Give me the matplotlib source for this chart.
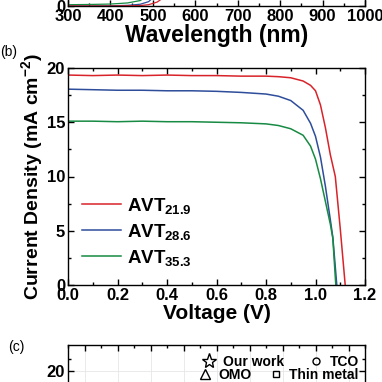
import matplotlib
matplotlib.use("Agg")
import matplotlib.pyplot as plt
from matplotlib.ticker import MultipleLocator, FixedLocator, FuncFormatter, FormatStrFormatter
from matplotlib.lines import Line2D

plt.rcParams['font.family'] = ['Liberation Sans', 'DejaVu Sans']
plt.rcParams['font.weight'] = 'bold'
plt.rcParams['mathtext.fontset'] = 'custom'
plt.rcParams['mathtext.rm'] = 'Liberation Sans:bold'
plt.rcParams['mathtext.it'] = 'Liberation Sans:bold'
plt.rcParams['mathtext.bf'] = 'Liberation Sans:bold'

# ---- data: panel (b) J-V curves ----
v_219 = [0, 0.1, 0.2, 0.3, 0.4, 0.5, 0.6, 0.7, 0.8, 0.85, 0.9, 0.95, 0.98, 1.0, 1.02, 1.04, 1.06, 1.08, 1.10, 1.12]
j_219 = [19.35, 19.3, 19.35, 19.3, 19.35, 19.3, 19.3, 19.25, 19.25, 19.2, 19.1, 18.8, 18.4, 17.9, 16.6, 14.5, 12.0, 10.0, 5.2, 0.0]

v_286 = [0, 0.1, 0.2, 0.3, 0.4, 0.5, 0.6, 0.7, 0.8, 0.85, 0.9, 0.95, 0.98, 1.0, 1.02, 1.04, 1.06, 1.07, 1.086]
j_286 = [18.05, 18.0, 17.95, 17.95, 17.9, 17.9, 17.85, 17.75, 17.6, 17.4, 17.0, 16.1, 14.9, 13.7, 11.8, 9.1, 6.0, 4.4, 0.0]

v_353 = [0, 0.1, 0.2, 0.3, 0.4, 0.5, 0.6, 0.7, 0.8, 0.85, 0.9, 0.95, 0.98, 1.0, 1.02, 1.04, 1.06, 1.07, 1.082]
j_353 = [15.1, 15.1, 15.05, 15.1, 15.05, 15.05, 15.0, 14.95, 14.85, 14.7, 14.4, 13.8, 12.8, 11.6, 9.8, 7.7, 5.6, 4.3, 0.0]

labels_b = [r'AVT$_{21.9}$', r'AVT$_{28.6}$', r'AVT$_{35.3}$']
colors_b = ['#d8232a', '#2e4d9b', '#178a43']

# ---- data: panel (a) bottom strip (transmittance near zero) ----
wl_a = [300, 350, 400, 440, 470, 490, 510, 530, 550, 600]
t_green = [0.6, 0.7, 0.9, 1.4, 2.5, 5.0, 10.0, 18.0, 25.0, 35.0]
t_blue = [0.0, 0.0, 0.1, 0.3, 0.8, 2.0, 5.5, 12.0, 20.0, 32.0]
t_red = [0.0, 0.0, 0.0, 0.1, 0.2, 0.6, 1.8, 4.5, 10.0, 25.0]

# ---- panel (c) legend entries ----
legend_c_row1 = [('*', 'Our work'), ('o', 'TCO')]
legend_c_row2 = [('^', 'OMO'), ('s', 'Thin metal')]
marker_sizes = {'*': 11, 'o': 5, '^': 7, 's': 5}

W = 382.0
fig = plt.figure(figsize=(3.82, 3.82), dpi=100)


def style(ax):
    ax.tick_params(which='both', direction='in', top=True, right=True,
                   labelsize=12, width=1.0, pad=2)
    ax.tick_params(which='major', length=4)
    ax.tick_params(which='minor', length=2)
    for s in ax.spines.values():
        s.set_linewidth(1.0)
    for lab in ax.get_xticklabels() + ax.get_yticklabels():
        lab.set_fontweight('bold')


left, width = 68 / W, 297 / W

# panel (a): only its bottom edge is visible
ax_a = fig.add_axes([left, 1 - 6 / W, width, 217 / W])
ax_a.plot(wl_a, t_green, color=colors_b[2], lw=0.9)
ax_a.plot(wl_a, t_blue, color=colors_b[1], lw=0.9)
ax_a.plot(wl_a, t_red, color=colors_b[0], lw=0.9)
ax_a.set_xlim(300, 1000)
ax_a.set_ylim(0, 100)
ax_a.xaxis.set_major_locator(MultipleLocator(100))
ax_a.xaxis.set_minor_locator(MultipleLocator(50))
ax_a.yaxis.set_major_locator(MultipleLocator(20))
ax_a.yaxis.set_major_formatter(FuncFormatter(lambda v, p: '0' if v == 0 else ''))
ax_a.set_xlabel('Wavelength (nm)', fontsize=16.5, fontweight='bold', labelpad=0)
style(ax_a)

# panel (b)
ax_b = fig.add_axes([left, 1 - 285 / W, width, 217 / W])
for v, j, lab, c in zip([v_219, v_286, v_353], [j_219, j_286, j_353], labels_b, colors_b):
    ax_b.plot(v, j, color=c, lw=1.1, label=lab)
ax_b.set_xlim(0, 1.2)
ax_b.set_ylim(0, 20)
ax_b.xaxis.set_major_locator(MultipleLocator(0.2))
ax_b.xaxis.set_minor_locator(MultipleLocator(0.1))
ax_b.yaxis.set_major_locator(MultipleLocator(5))
ax_b.yaxis.set_minor_locator(MultipleLocator(2.5))
ax_b.xaxis.set_major_formatter(FormatStrFormatter('%.1f'))
ax_b.set_xlabel('Voltage (V)', fontsize=15, fontweight='bold', labelpad=1)
ax_b.set_ylabel(r'Current Density (mA cm$^{-2}$)', fontsize=14, fontweight='bold', labelpad=1)
style(ax_b)
ax_b.legend(loc='upper left', bbox_to_anchor=(14 / 297, 0.41), frameon=False,
            prop={'size': 13.5, 'weight': 'bold'}, handlelength=2.1,
            handletextpad=0.3, labelspacing=0.32, borderpad=0, borderaxespad=0)
fig.text(0.0, 1 - 52 / W, '(b)', fontsize=10, fontweight='normal', va='center', ha='left')

# panel (c): only its top edge is visible
ax_c = fig.add_axes([left, 1 - 467 / W, width, 122 / W])
ax_c.set_xlim(5, 95)
ax_c.set_ylim(0, 25.4)
ax_c.xaxis.set_major_locator(MultipleLocator(10))
ax_c.xaxis.set_minor_locator(MultipleLocator(5))
ax_c.yaxis.set_major_locator(FixedLocator([0, 5, 10, 15, 20]))
ax_c.yaxis.set_minor_locator(FixedLocator([2.5, 7.5, 12.5, 17.5, 22.5]))
ax_c.yaxis.set_major_formatter(FuncFormatter(lambda v, p: '20' if v == 20 else ''))
ax_c.grid(True, color='#e6e6e6', lw=0.6)
ax_c.set_xticklabels([])
style(ax_c)


def marker_handles(entries):
    return [Line2D([], [], ls='none', marker=m, mfc='none', mec='black',
                   mew=1.0, ms=marker_sizes[m]) for m, _ in entries]


leg1 = ax_c.legend(marker_handles(legend_c_row1), [t for _, t in legend_c_row1],
                   loc='upper right', bbox_to_anchor=(1.012, 1.0), ncol=2, frameon=False,
                   prop={'size': 10, 'weight': 'bold'}, handlelength=1.0,
                   handletextpad=0.5, columnspacing=1.8, borderpad=0.2)
ax_c.add_artist(leg1)
ax_c.legend(marker_handles(legend_c_row2), [t for _, t in legend_c_row2],
            loc='upper right', bbox_to_anchor=(1.012, 0.895), ncol=2, frameon=False,
            prop={'size': 10, 'weight': 'bold'}, handlelength=1.0,
            handletextpad=0.5, columnspacing=1.2, borderpad=0.2)
fig.text(8 / W, 1 - 347 / W, '(c)', fontsize=10, fontweight='normal', va='center', ha='left')

fig.savefig('out.png', dpi=100)
